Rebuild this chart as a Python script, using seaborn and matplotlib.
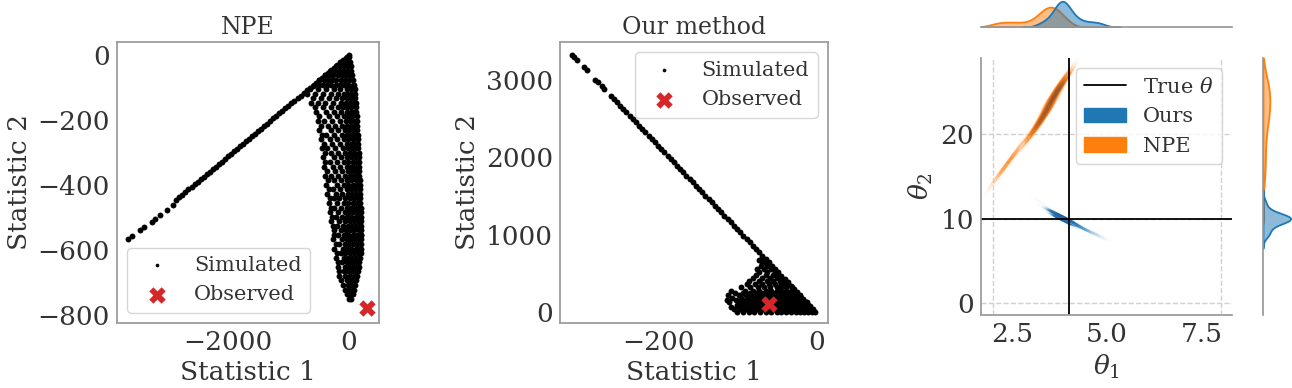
import matplotlib
matplotlib.use("Agg")
import numpy as np
import pandas as pd
import matplotlib.pyplot as plt
import seaborn as sns
from matplotlib.colors import LinearSegmentedColormap
from matplotlib.lines import Line2D
from matplotlib.patches import Patch

# --- DATA ---
# NPE panel: simulated summary statistics
NPE_LINE_S1 = [-3641, -3586, -3448, -3382, -3256, -3201, -3118, -3008, -2899,
               -2850, -2800, -2750, -2700, -2650, -2600, -2550, -2500, -2450, -2400,
               -2350, -2300, -2250, -2200, -2150, -2100, -2050, -2000, -1950, -1900,
               -1850, -1800, -1750, -1700, -1650, -1600, -1550, -1500, -1450, -1400,
               -1350, -1300, -1250, -1200, -1150, -1100, -1050, -1000, -950, -900,
               -850, -800, -750, -700, -650, -600, -550, -500, -450, -400,
               -350, -300, -250, -200, -150, -100, -50, 0]
NPE_LINE_S2 = [-567, -557, -537, -530, -512, -504, -491, -476, -461,
               -445, -437, -429, -421, -413, -406, -398, -390, -382, -374,
               -367, -359, -351, -343, -335, -328, -320, -312, -304, -296,
               -289, -281, -273, -265, -257, -250, -242, -234, -226, -218,
               -211, -203, -195, -187, -179, -172, -164, -156, -148, -140,
               -133, -125, -117, -109, -101, -94, -86, -78, -70, -62,
               -55, -47, -39, -31, -23, -16, -8, 0]
# rows of the cloud: (statistic 2, [statistic 1 values])
NPE_CLOUD_ROWS = [
    (-7, [-40, 5]),
    (-21, [-130, -65, 0, 20]),
    (-35, [-220, -150, -80, -10, 30]),
    (-49, [-310, -240, -170, -100, -30, 40]),
    (-63, [-400, -330, -260, -190, -120, -50, 20, 52]),
    (-77, [-490, -420, -350, -280, -210, -140, -70, 0, 62]),
    (-91, [-580, -500, -430, -360, -290, -220, -150, -80, -10, 60, 78]),
    (-105, [-640, -520, -380, -250, -150, -40, 25, 95]),
    (-119, [-690, -560, -430, -300, -180, -90, -30, 35, 100]),
    (-133, [-600, -470, -330, -220, -110, -40, 30, 105]),
    (-147, [-620, -510, -400, -260, -140, -45, 20, 80, 110]),
    (-161, [-560, -430, -300, -190, -100, -30, 40, 115]),
    (-175, [-540, -380, -250, -130, -40, 25, 90, 120]),
    (-189, [-500, -330, -200, -90, -20, 50, 125]),
    (-203, [-520, -420, -280, -150, -45, 20, 85, 130]),
    (-217, [-470, -350, -230, -110, -30, 40, 105, 135]),
    (-231, [-490, -300, -180, -70, 0, 70, 140]),
    (-245, [-440, -380, -250, -120, -35, 30, 95, 145]),
    (-259, [-470, -320, -200, -80, -10, 60, 125, 148]),
    (-273, [-420, -280, -150, -40, 25, 90, 152]),
    (-287, [-450, -360, -230, -100, -20, 50, 115, 155]),
    (-301, [-400, -300, -180, -60, 10, 80, 158]),
    (-315, [-430, -250, -130, -30, 40, 105, 160]),
    (-329, [-390, -320, -200, -80, -10, 65, 130, 162]),
    (-343, [-410, -270, -150, -40, 30, 95, 165]),
    (-357, [-370, -230, -110, -20, 50, 120, 168]),
    (-371, [-400, -300, -180, -60, 10, 80, 150, 170]),
    (-385, [-350, -250, -130, -30, 40, 110, 174]),
    (-399, [-380, -200, -90, -10, 60, 130, 178]),
    (-413, [-330, -270, -150, -40, 30, 100, 160, 180]),
    (-427, [-360, -210, -110, -20, 50, 120, 182]),
    (-441, [-310, -240, -160, -60, 15, 85, 150, 185]),
    (-455, [-330, -200, -90, -10, 60, 130, 188]),
    (-469, [-300, -250, -140, -40, 30, 100, 165, 192]),
    (-483, [-310, -180, -70, 0, 70, 140, 195]),
    (-497, [-280, -220, -120, -30, 40, 110, 170, 198]),
    (-511, [-290, -160, -60, 10, 80, 150, 200]),
    (-525, [-270, -200, -100, -20, 50, 120, 180, 203]),
    (-539, [-250, -140, -50, 20, 90, 160, 205]),
    (-553, [-240, -180, -90, -10, 60, 130, 190, 205]),
    (-567, [-260, -120, -40, 30, 100, 165, 205]),
    (-581, [-220, -160, -70, 0, 70, 140, 200]),
    (-595, [-240, -100, -30, 40, 110, 170, 195]),
    (-609, [-200, -130, -60, 10, 80, 150, 190]),
    (-623, [-210, -90, -20, 50, 120, 180]),
    (-637, [-180, -110, -40, 30, 100, 160]),
    (-651, [-190, -70, 0, 70, 130, 165]),
    (-665, [-160, -90, -20, 50, 110, 150]),
    (-679, [-170, -60, 10, 80, 130]),
    (-693, [-130, -40, 30, 90, 120]),
    (-707, [-100, -20, 40, 100]),
    (-721, [-60, 0, 60, 90]),
    (-735, [-30, 20, 70]),
    (-749, [0, 40]),
]
NPE_OBSERVED = (292, -777)

# Our method panel: simulated summary statistics
OURS_LINE_S1 = [-309, -306, -303, -294, -290, -280, -276, -271, -268, -259,
                -256, -252, -248, -244, -240, -236, -232, -228, -224, -220,
                -216, -212, -208, -204, -200, -196, -192, -188, -184, -180,
                -176, -172, -168, -164, -160, -156, -152, -148, -144, -140,
                -136, -132, -128, -124, -120, -116, -112, -108, -104, -100,
                -96, -92, -88, -84, -80, -76, -72, -68, -64, -60,
                -56, -52, -48, -44, -40, -36, -32, -28, -24, -20,
                -16, -12, -8, -4]
OURS_LINE_S2 = [3323, 3290, 3250, 3159, 3120, 3000, 2965, 2916, 2880, 2784,
                2752, 2709, 2666, 2623, 2580, 2537, 2494, 2451, 2408, 2365,
                2322, 2279, 2236, 2193, 2150, 2107, 2064, 2021, 1978, 1935,
                1892, 1849, 1806, 1763, 1720, 1677, 1634, 1591, 1548, 1505,
                1462, 1419, 1376, 1333, 1290, 1247, 1204, 1161, 1118, 1075,
                1032, 989, 946, 903, 860, 817, 774, 731, 688, 645,
                602, 559, 516, 473, 430, 387, 344, 301, 258, 215,
                172, 129, 86, 43]
OURS_CLOUD_ROWS = [
    (10, [-100, -92, -85, -78, -71, -64, -57, -50, -44, -38, -32, -26, -20, -15, -10, -5, -2]),
    (40, [-104, -95, -87, -80, -73, -66, -59, -52, -46, -40, -34, -28, -22, -17, -12, -7]),
    (70, [-108, -98, -90, -83, -75, -68, -61, -54, -48, -42, -36, -30, -24, -18, -12, -8]),
    (100, [-100, -92, -84, -77, -70, -63, -56, -50, -44, -38, -32, -26, -20, -14, -10]),
    (130, [-110, -96, -88, -81, -74, -67, -60, -53, -47, -41, -35, -29, -23, -17, -13]),
    (160, [-113, -102, -92, -85, -78, -71, -64, -57, -50, -44, -38, -32, -26, -20, -16]),
    (190, [-106, -95, -86, -79, -72, -65, -58, -51, -45, -39, -33, -27, -22, -19]),
    (220, [-112, -98, -89, -82, -75, -68, -61, -54, -48, -42, -36, -30, -24, -21]),
    (250, [-103, -92, -84, -76, -69, -62, -55, -48, -42, -36, -30, -25]),
    (280, [-108, -90, -80, -72, -64, -57, -50, -44, -38, -32, -28]),
    (320, [-95, -84, -74, -66, -58, -50, -44, -38, -31]),
    (360, [-88, -77, -68, -60, -52, -45, -39, -35]),
    (400, [-85, -72, -62, -54, -46, -40]),
    (440, [-80, -68, -58, -50, -44]),
    (480, [-76, -64, -55, -48]),
    (520, [-72, -62, -52]),
    (560, [-75, -66, -57]),
    (600, [-70, -62]),
    (640, [-68, -63]),
    (680, [-72, -66]),
]
OURS_OBSERVED = (-59, 104)

# posterior samples (theta_1, theta_2)
NPE_THETA1 = [2.00, 2.12, 2.20, 2.33, 2.42, 2.52, 2.62, 2.74, 2.86, 2.98, 3.08, 3.16,
              3.26, 3.21, 3.33, 3.27, 3.38, 3.32, 3.42, 3.37, 3.47, 3.41, 3.51, 3.45,
              3.55, 3.49, 3.59, 3.53, 3.63, 3.57, 3.67, 3.61, 3.72, 3.67, 3.78, 3.74,
              3.86, 3.80, 3.92, 3.88]
NPE_THETA2 = [14.4, 15.0, 15.6, 16.2, 16.8, 17.4, 18.0, 18.6, 19.2, 19.8, 20.4, 20.9,
              21.2, 21.4, 21.7, 21.9, 22.1, 22.3, 22.5, 22.7, 22.9, 23.1, 23.3, 23.5,
              23.7, 23.9, 24.1, 24.3, 24.5, 24.7, 24.9, 25.1, 25.3, 25.5, 25.7, 25.9,
              26.1, 26.2, 26.4, 26.5]
OURS_THETA1 = [3.25, 3.38, 3.50, 3.58, 3.63, 3.67, 3.70, 3.73, 3.76, 3.78,
               3.80, 3.82, 3.84, 3.86, 3.88, 3.90, 3.93, 3.96, 4.00, 4.04,
               4.10, 4.18, 4.28, 4.40, 4.55, 4.70, 4.85]
OURS_THETA2 = [12.0, 11.4, 10.9, 10.7, 10.35, 10.55, 10.15, 10.4, 10.0, 10.3,
               9.88, 10.2, 9.78, 10.1, 9.72, 10.05, 9.65, 9.95, 9.52, 9.8,
               9.4, 9.35, 9.0, 8.75, 8.45, 8.15, 7.9]
TRUE_THETA = (4.0, 10.0)
GUIDE_THETA1 = [2.0, 8.0]
GUIDE_THETA2 = [0, 10, 20]

NPE_XTICKS = [-2000, 0]
NPE_YTICKS = [0, -200, -400, -600, -800]
OURS_XTICKS = [-200, 0]
OURS_YTICKS = [0, 1000, 2000, 3000]
THETA_XTICKS = [2.5, 5.0, 7.5]
THETA_YTICKS = [0, 10, 20]

BLUE = "#1f77b4"
ORANGE = "#ff7f0e"
RED = "#d62728"
SPINE = "0.6"


def sim_frame(line_s1, line_s2, rows):
    s1, s2 = list(line_s1), list(line_s2)
    for y, xs in rows:
        s1 += xs
        s2 += [y] * len(xs)
    return pd.DataFrame({"s1": s1, "s2": s2})


def stat_panel(ax, df, obs, title, xticks, yticks, xlim, ylim, legend_loc):
    sns.scatterplot(data=df, x="s1", y="s2", color="black", s=18, linewidth=0,
                    label="Simulated", ax=ax)
    sns.scatterplot(x=[obs[0]], y=[obs[1]], marker="X", color=RED, s=140,
                    linewidth=0, label="Observed", ax=ax)
    ax.set_xlim(*xlim)
    ax.set_ylim(*ylim)
    ax.set_xticks(xticks)
    ax.set_yticks(yticks)
    ax.set_xlabel("Statistic 1", fontsize=19)
    ax.set_ylabel("Statistic 2", fontsize=19)
    ax.set_title(title, fontsize=17)
    ax.tick_params(labelsize=19, length=0, pad=5)
    for sp in ax.spines.values():
        sp.set_color(SPINE)
    leg = ax.legend(loc=legend_loc, fontsize=15)
    leg.legend_handles[0].set_sizes([7])


def glow_cmap(color, dark, top_alpha):
    # transparent -> colour -> darker centre, gives the soft halo of the original
    return LinearSegmentedColormap.from_list(
        "glow", [(1, 1, 1, 0), matplotlib.colors.to_rgba(color, 0.35),
                 matplotlib.colors.to_rgba(dark, top_alpha)])


sns.set_theme(style="white")
plt.rcParams["font.family"] = ["DejaVu Serif"]
plt.rcParams["mathtext.fontset"] = "dejavuserif"
plt.rcParams["text.color"] = "0.2"
plt.rcParams["axes.labelcolor"] = "0.2"
plt.rcParams["xtick.color"] = "0.2"
plt.rcParams["ytick.color"] = "0.2"

W, H = 1292, 388
fig = plt.figure(figsize=(W / 100, H / 100), dpi=100)


def px_axes(x0, y0, x1, y1):
    return fig.add_axes([x0 / W, 1 - y1 / H, (x1 - x0) / W, (y1 - y0) / H])


ax_npe = px_axes(117, 42, 379, 323)
ax_ours = px_axes(560, 42, 828, 323)
ax_main = px_axes(981, 58, 1232, 315)
ax_top = px_axes(981, 0, 1232, 27)
ax_right = px_axes(1263, 58, 1292, 315)

stat_panel(ax_npe, sim_frame(NPE_LINE_S1, NPE_LINE_S2, NPE_CLOUD_ROWS), NPE_OBSERVED,
           "NPE", NPE_XTICKS, NPE_YTICKS, (-3830, 495), (-824, 40), "lower left")
stat_panel(ax_ours, sim_frame(OURS_LINE_S1, OURS_LINE_S2, OURS_CLOUD_ROWS), OURS_OBSERVED,
           "Our method", OURS_XTICKS, OURS_YTICKS, (-324, 15), (-138, 3487), "upper right")

# joint posterior panel
for g in GUIDE_THETA1:
    ax_main.axvline(g, color="0.82", lw=1, ls="--", zorder=0)
for g in GUIDE_THETA2:
    ax_main.axhline(g, color="0.82", lw=1, ls="--", zorder=0)

for t1, t2, col, dark, top_a in [(NPE_THETA1, NPE_THETA2, ORANGE, "#93502e", 0.75),
                                 (OURS_THETA1, OURS_THETA2, BLUE, "#2b5d93", 0.6)]:
    sns.kdeplot(x=t1, y=t2, fill=True, cmap=glow_cmap(col, dark, top_a), levels=30,
                thresh=0.02, bw_adjust=0.9, ax=ax_main)
    sns.kdeplot(x=t1, fill=True, color=col, alpha=0.5, linewidth=1.3,
                bw_adjust=0.85, ax=ax_top)
    sns.kdeplot(y=t2, fill=True, color=col, alpha=0.5, linewidth=1.3,
                bw_adjust=1.0, ax=ax_right)

ax_main.axvline(TRUE_THETA[0], color="black", lw=1.3)
ax_main.axhline(TRUE_THETA[1], color="black", lw=1.3)
ax_main.set_xlim(1.68, 8.29)
ax_main.set_ylim(-1.4, 29)
ax_main.set_xticks(THETA_XTICKS)
ax_main.set_yticks(THETA_YTICKS)
ax_main.set_xlabel(r"$\theta_1$", fontsize=19)
ax_main.set_ylabel(r"$\theta_2$", fontsize=19)
ax_main.tick_params(labelsize=19, length=0, pad=5)
sns.despine(ax=ax_main)
for sp in ("left", "bottom"):
    ax_main.spines[sp].set_color(SPINE)

handles = [Line2D([], [], color="black", lw=1.3), Patch(color=BLUE), Patch(color=ORANGE)]
ax_main.legend(handles, [r"True $\theta$", "Ours", "NPE"], loc="upper right", fontsize=15)

ax_top.set_xlim(ax_main.get_xlim())
ax_top.set_ylim(bottom=0)
ax_right.set_ylim(ax_main.get_ylim())
ax_right.set_xlim(left=0)
for a, keep in [(ax_top, "bottom"), (ax_right, "left")]:
    a.set_xticks([])
    a.set_yticks([])
    a.set_xlabel("")
    a.set_ylabel("")
    for name, sp in a.spines.items():
        sp.set_visible(name == keep)
        sp.set_color(SPINE)

fig.savefig("out.png", dpi=100)
